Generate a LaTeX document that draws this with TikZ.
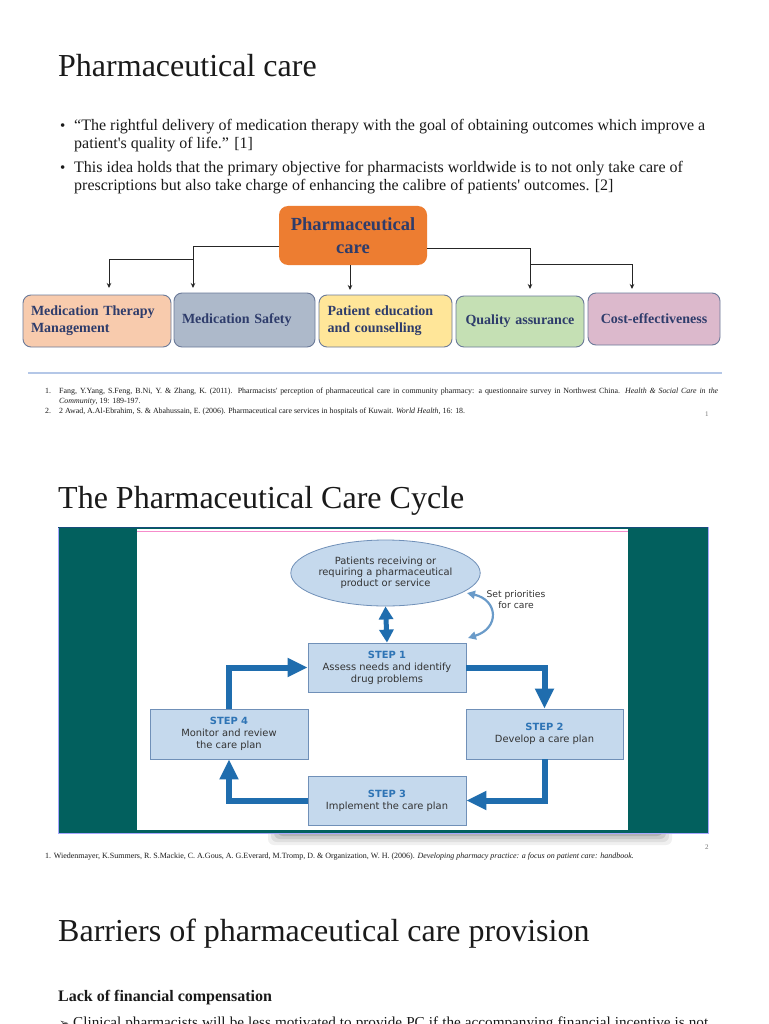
\documentclass[tikz,border=0pt]{standalone}
\usepackage{fontspec}
\setmainfont{Liberation Serif}
\newfontfamily\figsans{DejaVu Sans}
\newfontfamily\symfont{DejaVu Sans}
\usetikzlibrary{arrows.meta,shapes.geometric}
\definecolor{pcorange}{HTML}{ED7D31}
\definecolor{peach}{HTML}{F8CBAD}
\definecolor{bluegray}{HTML}{ADB9CA}
\definecolor{paleyellow}{HTML}{FFE699}
\definecolor{palegreen}{HTML}{C5E0B4}
\definecolor{mauve}{HTML}{DCB9CC}
\definecolor{boxline}{HTML}{6B7A99}
\definecolor{navy}{HTML}{2E3C6B}
\definecolor{teal}{HTML}{02605E}
\definecolor{stepfill}{HTML}{C5D9ED}
\definecolor{stepline}{HTML}{7090B8}
\definecolor{flowblue}{HTML}{1F6DAE}
\definecolor{lightflow}{HTML}{6A9BC9}
\definecolor{steptitle}{HTML}{2E74B5}
\definecolor{figtext}{HTML}{333333}
\definecolor{bodyblack}{HTML}{1A1A1A}
\definecolor{sepline}{HTML}{B4C7E7}
\tikzset{
  titletext/.style={anchor=base west, inner sep=0pt, text=bodyblack, font=\fontsize{32}{38}\selectfont},
  bodytext/.style={anchor=base west, inner sep=0pt, text=bodyblack, font=\fontsize{16}{18}\selectfont},
  reftext/.style={anchor=base west, inner sep=0pt, text=bodyblack, font=\fontsize{7.9}{9}\selectfont},
  catbox/.style={draw=boxline, line width=0.9pt, rounded corners=8pt, text=navy,
    font=\fontsize{14}{17}\selectfont\bfseries, inner xsep=8pt, inner ysep=0pt},
  conn/.style={draw=black!85, line width=0.9pt, -{Stealth[length=5pt,width=4.5pt]}},
  stepbox/.style={draw=stepline, line width=0.8pt, fill=stepfill, text=figtext, align=center,
    font=\figsans\fontsize{9.9}{12}\selectfont, inner sep=0pt},
  bigarrow/.style={draw=flowblue, line width=6pt, -{Triangle[length=20pt,width=18pt]}},
}
\newcommand{\steplabel}[1]{{\color{steptitle}\bfseries #1}}
\begin{document}
\begin{tikzpicture}[x=1pt,y=-1pt]
\useasboundingbox (0,0) rectangle (768,1024);
\clip (0,0) rectangle (768,1024);
\fill[white] (0,0) rectangle (768,1024);

% ---------- Slide 1 ----------
\node[titletext] (t1) at (58,77) {Pharmaceutical care};
\node[bodytext, font=\fontsize{15}{18}\selectfont] (bu1) at (60,131) {•};
\node[bodytext] (l1a) at (74,131) {“The rightful delivery of medication therapy with the goal of obtaining outcomes which improve a};
\node[bodytext] (l1b) at (74,149) {patient\textquotesingle s quality of life.” [1]};
\node[bodytext, font=\fontsize{15}{18}\selectfont] (bu2) at (60,173) {•};
\node[bodytext] (l2a) at (74,173) {This idea holds that the primary objective for pharmacists worldwide is to not only take care of};
\node[bodytext] (l2b) at (74,191) {prescriptions but also take charge of enhancing the calibre of patients\textquotesingle{} outcomes. [2]};

% central box
\node[fill=pcorange, rounded corners=9pt, minimum width=148pt, minimum height=59pt, inner sep=0pt,
  text=navy, align=center, font=\fontsize{18.5}{23}\selectfont\bfseries] (pc) at (353,235.5)
  {Pharmaceutical\\care};

% category boxes
\node[catbox, fill=peach, minimum width=148pt, minimum height=52pt, text width=132pt, align=left] (b1) at (97,321) {Medication Therapy\\Management};
\node[catbox, fill=bluegray, minimum width=141pt, minimum height=54pt, text width=125pt, align=left] (b2) at (244.5,320) {Medication Safety};
\node[catbox, fill=paleyellow, minimum width=133pt, minimum height=52pt, text width=116pt, align=left, inner xsep=8.5pt] (b3) at (385.5,321) {Patient education\\and counselling};
\node[catbox, fill=palegreen, minimum width=128pt, minimum height=51pt, text width=112pt, align=center] (b4) at (520,321.5) {Quality assurance};
\node[catbox, fill=mauve, minimum width=132pt, minimum height=52pt, text width=116pt, align=center] (b5) at (654,319) {Cost-effectiveness};

% connectors
\coordinate (jl) at (193,246);
\coordinate (jlb) at (193,259);
\coordinate (e1) at (109,288);
\coordinate (e2) at (193,288);
\coordinate (jc) at (350,265);
\coordinate (e3) at (350,290);
\coordinate (jr) at (530,248);
\coordinate (jrb) at (530,264);
\coordinate (e4) at (530,289);
\coordinate (e5) at (632,289);
\draw[conn] (pc.west |- jl) -- (jl) -- (e2);
\draw[conn] (jlb) -| (e1);
\draw[conn] (jc) -- (e3);
\draw[conn] (pc.east |- jr) -- (jr) -- (e4);
\draw[conn] (jrb) -| (e5);

% separator line
\draw[line width=1.3pt, color=sepline] (28,373) -- (722,373);

% references slide 1
\node[reftext] (r1n) at (45,393) {1.};
\node[reftext] (r1a) at (59,393) {\makebox[659pt][s]{Fang, Y.Yang, S.Feng, B.Ni, Y. \& Zhang, K. (2011). Pharmacists\textquotesingle{} perception of pharmaceutical care in community pharmacy: a questionnaire survey in Northwest China. \textit{Health \& Social Care in the}}};
\node[reftext] (r1b) at (59,403) {\textit{Community}, 19: 189-197.};
\node[reftext] (r2n) at (45,413) {2.};
\node[reftext] (r2a) at (59,413) {2 Awad, A.Al-Ebrahim, S. \& Abahussain, E. (2006). Pharmaceutical care services in hospitals of Kuwait. \textit{World Health}, 16: 18.};
\node[reftext, text=black!55, font=\fontsize{7}{8}\selectfont] (pg1) at (705,416) {1};

% ---------- Slide 2 ----------
\node[titletext] (t2) at (58,508) {The Pharmaceutical Care Cycle};

% shadow
\foreach \d/\o in {12/0.06,9/0.07,6/0.09,3/0.12}{
  \fill[black, opacity=\o, rounded corners=6pt] (280-\d,820) rectangle (660+\d,833+\d);
}
\fill[teal, draw=blue!35, line width=0.6pt] (58,527) rectangle (708,833);
\draw[color=flowblue!70!black, line width=1pt] (58,527.5) -- (708,527.5);
\fill[white] (137,529) rectangle (628,830);
\draw[color=magenta!45, line width=0.7pt] (137,531) -- (628,531);

\node[ellipse, draw=stepline, line width=0.8pt, fill=stepfill, minimum width=176pt, minimum height=66pt,
  inner sep=0pt, align=center, text=figtext, font=\figsans\fontsize{9.9}{11}\selectfont] (ell) at (385.5,573)
  {Patients receiving or\\requiring a pharmaceutical\\product or service};

\node[stepbox, minimum width=158pt, minimum height=49pt] (s1) at (387,667.5)
  {\steplabel{STEP 1}\\Assess needs and identify\\drug problems};
\node[stepbox, minimum width=157pt, minimum height=50pt] (s2) at (544.5,734)
  {\steplabel{STEP 2}\\Develop a care plan};
\node[stepbox, minimum width=158pt, minimum height=49pt] (s3) at (387,800.5)
  {\steplabel{STEP 3}\\Implement the care plan};
\node[stepbox, minimum width=158pt, minimum height=50pt] (s4) at (229,734)
  {\steplabel{STEP 4}\\Monitor and review\\the care plan};

\node[inner sep=0pt, align=center, text=figtext, font=\figsans\fontsize{9.2}{11}\selectfont] (sp) at (516,600)
  {Set priorities\\for care};

\draw[draw=flowblue, line width=5pt, {Triangle[length=13pt,width=14pt]}-{Triangle[length=13pt,width=14pt]}] (ell.south) -- (s1.north);
\coordinate (ca) at (467,593);
\coordinate (cb) at (468,638);
\draw[draw=lightflow, line width=2.2pt, {Triangle[length=8pt,width=8pt]}-{Triangle[length=8pt,width=8pt]}] (ca) .. controls (498,600) and (500,628) .. (cb);

\draw[bigarrow] (s1.east) -| (s2.north);
\draw[bigarrow] (s2.south) |- (s3.east);
\draw[bigarrow] (s3.west) -| (s4.south);
\draw[bigarrow] (s4.north) |- (s1.west);

\node[reftext, text=black!55, font=\fontsize{7}{8}\selectfont] (pg2) at (705,849) {2};
\node[reftext, font=\fontsize{8}{9}\selectfont] (r3) at (45,858) {1. Wiedenmayer, K.Summers, R. S.Mackie, C. A.Gous, A. G.Everard, M.Tromp, D. \& Organization, W. H. (2006). \textit{Developing pharmacy practice: a focus on patient care: handbook.}};

% ---------- Slide 3 ----------
\node[titletext] (t3) at (58,941) {Barriers of pharmaceutical care provision};
\node[bodytext, font=\fontsize{16}{18}\selectfont\bfseries] (h3) at (58,1001) {Lack of financial compensation};
\node[bodytext, font=\symfont\fontsize{12}{18}\selectfont] (bu3) at (59,1027) {➢};
\node[bodytext, font=\fontsize{15.2}{18}\selectfont] (l3a) at (73,1027) {\makebox[635pt][s]{Clinical pharmacists will be less motivated to provide PC if the accompanying financial incentive is not}};
\end{tikzpicture}
\end{document}
